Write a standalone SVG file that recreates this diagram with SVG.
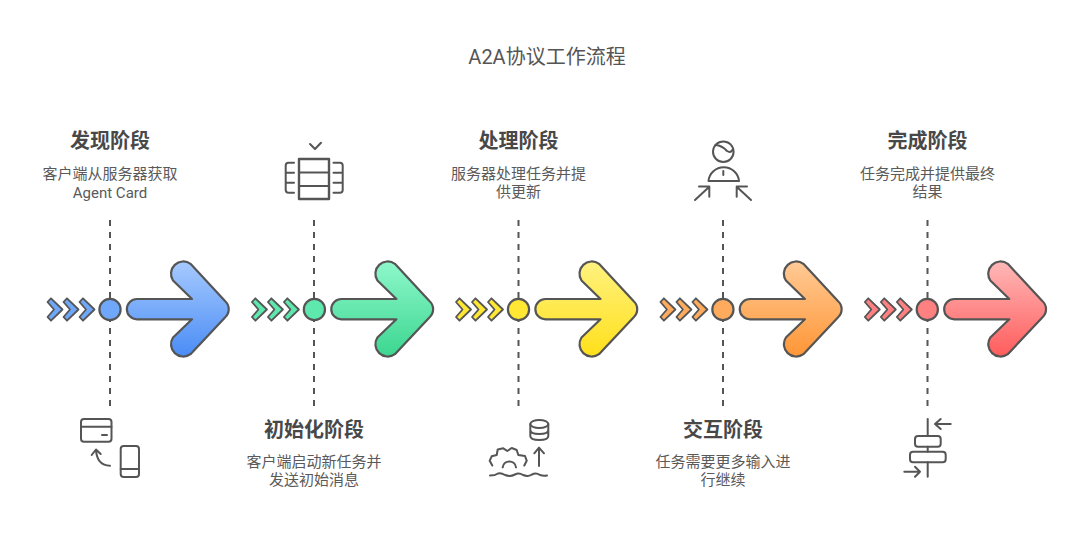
<svg xmlns="http://www.w3.org/2000/svg" xmlns:xlink="http://www.w3.org/1999/xlink" width="1080" height="559" viewBox="0 0 1080 559">
<style>
text{font-family:"Roboto","Noto Sans CJK SC",sans-serif;text-anchor:middle}
.title{font-size:20px;fill:#555}
.h{font-size:20px;font-weight:700;fill:#484848}
.d{font-size:15px;fill:#5a5a5a}
.o{stroke:#555;stroke-width:2.200;stroke-linejoin:round;stroke-linecap:round}
.c{stroke:#555;stroke-width:1.800;stroke-linejoin:round}
.dash{stroke:#555;stroke-width:2;stroke-dasharray:6 6;fill:none}
.i{fill:none;stroke:#555;stroke-width:2;stroke-linecap:round;stroke-linejoin:round}
</style>
<defs>
<linearGradient id="gb" x1="0" y1="0" x2="0" y2="1"><stop offset="0" stop-color="#a6caff"/><stop offset="1" stop-color="#4a8cf5"/></linearGradient>
<linearGradient id="gg" x1="0" y1="0" x2="0" y2="1"><stop offset="0" stop-color="#8ef8cb"/><stop offset="1" stop-color="#3cd690"/></linearGradient>
<linearGradient id="gy" x1="0" y1="0" x2="0" y2="1"><stop offset="0" stop-color="#fff27f"/><stop offset="1" stop-color="#ffe01a"/></linearGradient>
<linearGradient id="go" x1="0" y1="0" x2="0" y2="1"><stop offset="0" stop-color="#ffca96"/><stop offset="1" stop-color="#ff9636"/></linearGradient>
<linearGradient id="gr" x1="0" y1="0" x2="0" y2="1"><stop offset="0" stop-color="#ffb8b8"/><stop offset="1" stop-color="#ff5c5c"/></linearGradient>
<path id="arrow" d="M137 299H192L173 280.500A12.300 12.300 0 0 1 190.500 263.800L225 301A11 11 0 0 1 225 317.500L190.500 354.200A12.300 12.300 0 0 1 173 337.500L192 319.300H137A10.150 10.150 0 0 1 137 299Z"/>
<path id="chev" d="M47.500 302L51 298.300L62.500 309.500L51 320.700L47.500 317L54 309.500Z"/>
</defs>
<rect width="1080" height="559" fill="#fff"/>
<text class="title" x="547" y="64">A2A协议工作流程</text>

<g id="connectors">
<path class="dash" d="M110 220V408"/>
<path class="dash" d="M314 220V408"/>
<path class="dash" d="M518.500 220V408"/>
<path class="dash" d="M723 220V408"/>
<path class="dash" d="M927.500 220V408"/>
</g>

<g id="node-discover">
<g class="c" fill="#6fa8fb"><use xlink:href="#chev"/><use xlink:href="#chev" x="16"/><use xlink:href="#chev" x="32"/></g>
<use xlink:href="#arrow" class="o" fill="url(#gb)"/>
<circle class="o" cx="110" cy="309.500" r="10.600" fill="#6fa8fb"/>
<text class="h" x="110" y="148">发现阶段</text>
<text class="d" x="110" y="179">客户端从服务器获取</text>
<text class="d" x="110" y="197.500">Agent Card</text>
<g class="i">
<rect x="81" y="419" width="30.500" height="22.700" rx="3"/><path d="M81 426.700H111.500M102 435H107"/>
<rect x="120.700" y="446" width="18.300" height="31" rx="3"/><path d="M120.700 469H139"/>
<path d="M110 465.700Q97 465.500 96 450M91.700 455L96 449.500L100.700 454"/>
</g>
</g>

<g id="node-init" transform="translate(204.400 0)">
<g class="c" fill="#5fe8ae"><use xlink:href="#chev"/><use xlink:href="#chev" x="16"/><use xlink:href="#chev" x="32"/></g>
<use xlink:href="#arrow" class="o" fill="url(#gg)"/>
<circle class="o" cx="110" cy="309.500" r="10.600" fill="#5fe8ae"/>
</g>
<g id="node-init-text">
<text class="h" x="314" y="437">初始化阶段</text>
<text class="d" x="314" y="467">客户端启动新任务并</text>
<text class="d" x="314" y="485">发送初始消息</text>
<g class="i">
<path d="M310 144L315 149L321 142.700"/>
<rect x="299" y="159" width="30" height="40" stroke-width="2.400"/><path d="M299 172.500H329M299 186H329"/>
<path d="M294 162.700H288.500Q285.700 162.700 285.700 165.500V190Q285.700 192.700 288.500 192.700H294M285.700 172.700H294M285.700 182.700H294"/>
<path d="M333.500 162.700H340Q342.700 162.700 342.700 165.500V190Q342.700 192.700 340 192.700H333.500M342.700 172.700H333.500M342.700 182.700H333.500"/>
</g>
</g>

<g id="node-process" transform="translate(408.500 0)">
<g class="c" fill="#ffe733"><use xlink:href="#chev"/><use xlink:href="#chev" x="16"/><use xlink:href="#chev" x="32"/></g>
<use xlink:href="#arrow" class="o" fill="url(#gy)"/>
<circle class="o" cx="110" cy="309.500" r="10.600" fill="#ffe733"/>
</g>
<g id="node-process-text">
<text class="h" x="518.500" y="148">处理阶段</text>
<text class="d" x="518.500" y="179">服务器处理任务并提</text>
<text class="d" x="518.500" y="197">供更新</text>
<g class="i">
<ellipse cx="539.300" cy="424" rx="9" ry="4"/><path d="M530.300 424V436Q530.300 440 539.300 440Q548.300 440 548.300 436V424M530.300 430Q530.300 434 539.300 434Q548.300 434 548.300 430"/>
<path d="M539 466V447.700M534.300 453.300L539 447.700L544 453.300"/>
<path d="M492.300 465.500L489.700 460.700L491.700 456.300L496.700 455L497.700 449.500L503.300 448.300L507.300 451L511.700 448L516.700 450L518.300 455L525 456L526.700 460.700L524.300 465.500"/>
<path d="M502.700 467.300A6.700 6.700 0 0 1 516 467.300"/>
<path d="M490 475.500Q495 475.500 498 473.500Q501 472.500 505 475Q510 477 515 474.500Q519 472.500 523 475Q528 477 532 474.500Q536 472.500 540 475Q543 476 547 475.500"/>
</g>
</g>

<g id="node-interact" transform="translate(612.900 0)">
<g class="c" fill="#ffab5e"><use xlink:href="#chev"/><use xlink:href="#chev" x="16"/><use xlink:href="#chev" x="32"/></g>
<use xlink:href="#arrow" class="o" fill="url(#go)"/>
<circle class="o" cx="110" cy="309.500" r="10.600" fill="#ffab5e"/>
</g>
<g id="node-interact-text">
<text class="h" x="723" y="437">交互阶段</text>
<text class="d" x="723" y="467">任务需要更多输入进</text>
<text class="d" x="723" y="485">行继续</text>
<g class="i">
<circle cx="723.300" cy="151.700" r="10.300"/><path d="M715.500 145Q722 145.500 727 151Q731 153.500 733 149"/>
<path d="M708.500 181A15.300 15 0 0 1 739 181Z"/><path d="M723.300 171V175"/>
<path d="M695 200L709.300 186.700M699 186.500H709.300V196.700"/>
<path d="M751 200L736.700 186.700M747 186.500H736.700V196.700"/>
</g>
</g>

<g id="node-complete" transform="translate(817.300 0)">
<g class="c" fill="#ff8080"><use xlink:href="#chev"/><use xlink:href="#chev" x="16"/><use xlink:href="#chev" x="32"/></g>
<use xlink:href="#arrow" class="o" fill="url(#gr)"/>
<circle class="o" cx="110" cy="309.500" r="10.600" fill="#ff8080"/>
</g>
<g id="node-complete-text">
<text class="h" x="927.500" y="148">完成阶段</text>
<text class="d" x="927.500" y="179">任务完成并提供最终</text>
<text class="d" x="927.500" y="197">结果</text>
<g class="i">
<path d="M927.700 419V436M927.700 446.700V451.700M927.700 462.300V476.700"/>
<rect x="915" y="436" width="25.700" height="10.700" rx="3"/>
<rect x="910" y="451.700" width="35.700" height="10.600" rx="3"/>
<path d="M950.700 424H935M940.700 419L935 424L940.700 429"/>
<path d="M904.300 471.700H920M915 466.700L920 471.700L915 476.700"/>
</g>
</g>
</svg>
